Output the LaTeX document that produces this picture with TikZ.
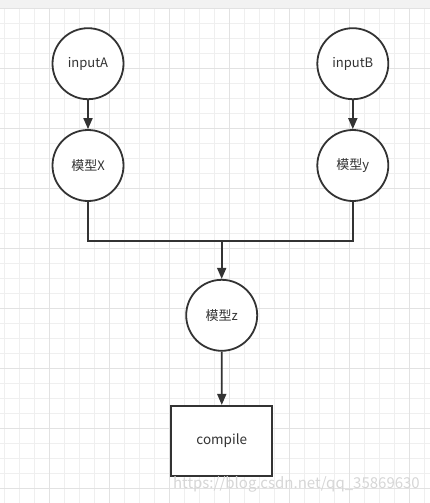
\documentclass[tikz,border=0pt]{standalone}
\usepackage{fontspec}
\setmainfont{Noto Sans CJK SC}
\usetikzlibrary{arrows.meta}
\definecolor{ink}{HTML}{333333}
\definecolor{gridminor}{HTML}{EFEFEF}
\definecolor{gridmajor}{HTML}{E2E2E2}
\definecolor{band}{HTML}{F2F2F2}
\definecolor{wm}{HTML}{D6D6D6}
\tikzset{
  circ/.style={circle, draw=ink, line width=1.8pt, fill=white, minimum size=71pt, inner sep=0pt, text=ink, font=\fontsize{13}{15}\selectfont},
  boxnode/.style={rectangle, draw=ink, line width=1.8pt, fill=white, minimum width=101pt, minimum height=70pt, inner sep=0pt, text=ink, font=\fontsize{13.5}{15}\selectfont},
  conn/.style={draw=ink, line width=1.8pt},
  arr/.style={conn, -{Triangle[length=11pt,width=9pt]}},
}
\begin{document}
\begin{tikzpicture}[x=1pt,y=-1pt]
\useasboundingbox (0,0) rectangle (430,503);
\fill[white] (0,0) rectangle (430,503);
% grid
\foreach \x in {4.3,19.3,...,430} \draw[gridminor, line width=1pt] (\x,8) -- (\x,503);
\foreach \y in {23.3,38.3,...,503} \draw[gridminor, line width=1pt] (0,\y) -- (430,\y);
\foreach \x in {49.3,109.3,...,430} \draw[gridmajor, line width=1pt] (\x,8) -- (\x,503);
\foreach \y in {8.3,68.3,...,503} \draw[gridmajor, line width=1pt] (0,\y) -- (430,\y);
\fill[band] (0,0) rectangle (430,8);
% nodes
\node[circ] (inA) at (88,63.7) {inputA};
\node[circ] (mX) at (88,165.5) {模型X};
\node[circ] (inB) at (352.8,63.7) {inputB};
\node[circ] (mY) at (352.8,165.5) {模型y};
\node[circ] (mZ) at (221.7,315.3) {模型z};
\node[boxnode] (comp) at (221.8,440.8) {compile};
\coordinate (j) at (221.7,240.7);
% connectors
\draw[arr] (inA) -- (mX);
\draw[arr] (inB) -- (mY);
\draw[conn] (mX.south) |- (j) -| (mY.south);
\draw[arr] (j) -- (mZ.north);
\draw[arr] (mZ) -- (comp);
% watermark
\node[text=wm, font=\fontsize{15}{17}\selectfont, anchor=east, inner sep=0pt] (wmk) at (420,484.5) {https://blog.csdn.net/qq\_35869630};
\end{tikzpicture}
\end{document}
